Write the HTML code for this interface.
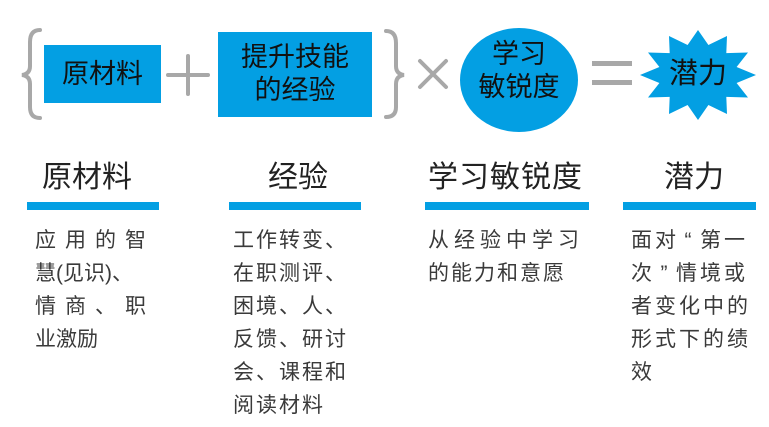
<!DOCTYPE html>
<html><head><meta charset="utf-8"><style>
html,body{margin:0;padding:0;background:#fff;width:769px;height:427px;overflow:hidden}
body{position:relative;font-family:"Liberation Sans","Noto Sans CJK SC",sans-serif}
.a{position:absolute;white-space:nowrap}
.box{position:absolute;background:#039fe3;color:#111;text-align:center}
.h{position:absolute;font-size:30px;color:#222;line-height:32px;top:162px}
.bar{position:absolute;top:202px;height:8px;background:#039fe3}
.t{position:absolute;font-size:21px;color:#3a3a3a;line-height:33px;top:224px}
.t div{white-space:nowrap}
.q{display:inline-block;width:21px;text-align:center}
</style></head><body>
<svg class="a" style="left:0;top:0" width="769" height="140">
<g fill="none" stroke="#a8a8a8" stroke-width="4" stroke-linecap="round">
<path d="M40 30 Q30 30 30 42 L30 66 Q30 74 22 75 Q30 76 30 84 L30 107 Q30 118 40 118"/>
<path d="M386 31 Q396 31 396 43 L396 66 Q396 74 404 75 Q396 76 396 84 L396 107 Q396 117 386 117"/>
<path d="M168 75 H208 M188 56 V94"/>
<path d="M420 61 L446 87 M446 61 L420 87"/>
</g>
<rect x="592" y="61" width="40" height="5" fill="#a8a8a8"/>
<rect x="592" y="80" width="40" height="5" fill="#a8a8a8"/>
<ellipse cx="519" cy="80" rx="59" ry="52" fill="#039fe3"/>
<polygon fill="#039fe3" points="698,30 708.4,45 727,36 726.3,53.1 748,52.5 736.6,67 756,75 736.6,83 748,97.5 726.3,96.9 727,114 708.4,105 698,120 687.6,105 669,114 669.7,96.9 648,97.5 659.4,83 640,75 659.4,67 648,52.5 669.7,53.1 669,36 687.6,45"/>
</svg>
<div class="box" style="left:44px;top:45px;width:117px;height:58px;font-size:27px;line-height:58px">原材料</div>
<div class="box" style="left:218px;top:32px;width:154px;height:85px;font-size:27px;line-height:33px;padding-top:9px;box-sizing:border-box">提升技能<br>的经验</div>
<div class="a" style="left:460px;top:38px;width:118px;text-align:center;font-size:27px;line-height:33px;color:#111">学习<br>敏锐度</div>
<div class="a" style="left:640px;top:58px;width:116px;text-align:center;font-size:29px;line-height:32px;color:#111">潜力</div>

<div class="h" style="left:42px">原材料</div>
<div class="h" style="left:268px">经验</div>
<div class="h" style="left:428px;letter-spacing:1px">学习敏锐度</div>
<div class="h" style="left:664px">潜力</div>
<div class="bar" style="left:27px;width:132px"></div>
<div class="bar" style="left:229px;width:132px"></div>
<div class="bar" style="left:425px;width:164px"></div>
<div class="bar" style="left:623px;width:133px"></div>

<div class="t" style="left:35px">
<div style="letter-spacing:9px">应用的智</div>
<div>慧(见识)、</div>
<div style="letter-spacing:9px">情商、职</div>
<div>业激励</div>
</div>
<div class="t" style="left:233px;letter-spacing:2px">
<div>工作转变、</div><div>在职测评、</div><div>困境、人、</div><div>反馈、研讨</div><div>会、课程和</div><div>阅读材料</div>
</div>
<div class="t" style="left:428px">
<div style="letter-spacing:5px">从经验中学习</div>
<div style="letter-spacing:2px">的能力和意愿</div>
</div>
<div class="t" style="left:631px;letter-spacing:3px">
<div>面对<span class="q">“</span>第一</div><div>次<span class="q">”</span>情境或</div><div>者变化中的</div><div>形式下的绩</div><div>效</div>
</div>
</body></html>
